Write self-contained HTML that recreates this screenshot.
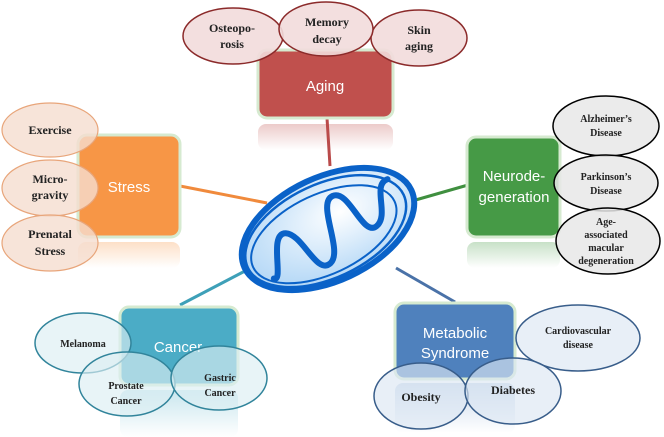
<!DOCTYPE html>
<html><head><meta charset="utf-8"><style>
html,body{margin:0;padding:0;background:#fff}
svg{display:block}
.b{font-family:"Liberation Serif",serif;font-weight:bold;font-size:12px;fill:#222;text-anchor:middle}
.s{font-size:10px}
.w{font-family:"Liberation Sans",sans-serif;font-size:15px;fill:#fff;text-anchor:middle}
</style></head><body>
<svg width="664" height="437" viewBox="0 0 664 437" xmlns="http://www.w3.org/2000/svg">
<defs>
<radialGradient id="lg" cx="0.6" cy="0.4" r="0.7"><stop offset="0" stop-color="#fff"/><stop offset="1" stop-color="#a9d2f5"/></radialGradient>
<linearGradient id="rr" x1="0" y1="0" x2="0" y2="1"><stop offset="0" stop-color="#c0504d" stop-opacity="0.3"/><stop offset="1" stop-color="#c0504d" stop-opacity="0"/></linearGradient>
<linearGradient id="ro" x1="0" y1="0" x2="0" y2="1"><stop offset="0" stop-color="#f79646" stop-opacity="0.3"/><stop offset="1" stop-color="#f79646" stop-opacity="0"/></linearGradient>
<linearGradient id="rg" x1="0" y1="0" x2="0" y2="1"><stop offset="0" stop-color="#469a46" stop-opacity="0.3"/><stop offset="1" stop-color="#469a46" stop-opacity="0"/></linearGradient>
<linearGradient id="rt" x1="0" y1="0" x2="0" y2="1"><stop offset="0" stop-color="#4bacc6" stop-opacity="0.3"/><stop offset="1" stop-color="#4bacc6" stop-opacity="0"/></linearGradient>
<linearGradient id="rb" x1="0" y1="0" x2="0" y2="1"><stop offset="0" stop-color="#4f81bd" stop-opacity="0.3"/><stop offset="1" stop-color="#4f81bd" stop-opacity="0"/></linearGradient>
</defs>
<line x1="327" y1="118" x2="330" y2="166" stroke="#b94a4a" stroke-width="3"/>
<line x1="180" y1="186" x2="267" y2="203" stroke="#f08a3c" stroke-width="3"/>
<line x1="412" y1="201" x2="468" y2="185" stroke="#3f8f3f" stroke-width="3"/>
<line x1="180" y1="305" x2="245" y2="271" stroke="#3ea0b8" stroke-width="3"/>
<line x1="396" y1="268" x2="455" y2="302" stroke="#4a72a8" stroke-width="3"/>
<rect x="258" y="124" width="135" height="26" rx="8" fill="url(#rr)"/>
<rect x="78" y="242" width="102" height="26" rx="8" fill="url(#ro)"/>
<rect x="467" y="242" width="93" height="26" rx="8" fill="url(#rg)"/>
<rect x="120" y="390" width="118" height="47" rx="8" fill="url(#rt)"/>
<rect x="395" y="383" width="120" height="50" rx="8" fill="url(#rb)"/>
<rect x="258" y="50" width="135" height="68" rx="9" fill="#c0504d" stroke="#d6ead0" stroke-width="3"/>
<text class="w" x="325" y="91">Aging</text>
<rect x="78" y="135" width="102" height="102" rx="9" fill="#f79646" stroke="#d6ead0" stroke-width="3"/>
<text class="w" x="129" y="192">Stress</text>
<rect x="467" y="137" width="93" height="100" rx="9" fill="#469a46" stroke="#d6ead0" stroke-width="3"/>
<text class="w" x="514" y="181">Neurode-</text><text class="w" x="514" y="202">generation</text>
<rect x="120" y="307" width="118" height="78" rx="9" fill="#4bacc6" stroke="#d6ead0" stroke-width="3"/>
<text class="w" x="178" y="352">Cancer</text>
<rect x="395" y="303" width="120" height="76" rx="9" fill="#4f81bd" stroke="#d6ead0" stroke-width="3"/>
<text class="w" x="455" y="338">Metabolic</text><text class="w" x="455" y="358">Syndrome</text>
<g fill="#f2dcdb" fill-opacity="0.9" stroke="#8b2a2a" stroke-width="1.5">
<ellipse cx="233" cy="36" rx="50" ry="28"/>
<ellipse cx="419" cy="38" rx="48" ry="28"/>
<ellipse cx="326" cy="29" rx="47" ry="27"/>
</g>
<text class="b" x="232" y="32">Osteopo-</text><text class="b" x="232" y="48">rosis</text>
<text class="b" x="327" y="26">Memory</text><text class="b" x="327" y="43">decay</text>
<text class="b" x="419" y="34">Skin</text><text class="b" x="419" y="50">aging</text>
<g fill="#f5ddd0" fill-opacity="0.8" stroke="#e8a57a" stroke-width="1.2">
<ellipse cx="50" cy="130" rx="48" ry="27"/>
<ellipse cx="50" cy="188" rx="48" ry="28"/>
<ellipse cx="50" cy="243" rx="48" ry="28"/>
</g>
<text class="b" x="50" y="134">Exercise</text>
<text class="b" x="50" y="183">Micro-</text><text class="b" x="50" y="199">gravity</text>
<text class="b" x="50" y="238">Prenatal</text><text class="b" x="50" y="255">Stress</text>
<g fill="#e8e8e8" fill-opacity="0.85" stroke="#000" stroke-width="1.5">
<ellipse cx="606" cy="126" rx="53" ry="30"/>
<ellipse cx="606" cy="183" rx="52" ry="28"/>
<ellipse cx="608" cy="241" rx="52" ry="33"/>
</g>
<text class="b s" x="606" y="122">Alzheimer’s</text><text class="b s" x="606" y="136">Disease</text>
<text class="b s" x="606" y="180">Parkinson’s</text><text class="b s" x="606" y="194">Disease</text>
<text class="b s" x="606" y="225">Age-</text><text class="b s" x="606" y="238">associated</text><text class="b s" x="606" y="251">macular</text><text class="b s" x="606" y="264">degeneration</text>
<g fill="#dbeef3" fill-opacity="0.65" stroke="#31849b" stroke-width="1.5">
<ellipse cx="83" cy="343" rx="48" ry="30"/>
<ellipse cx="127" cy="384" rx="48" ry="32"/>
<ellipse cx="219" cy="378" rx="48" ry="32"/>
</g>
<text class="b s" x="83" y="347">Melanoma</text>
<text class="b s" x="126" y="389">Prostate</text><text class="b s" x="126" y="404">Cancer</text>
<text class="b s" x="220" y="381">Gastric</text><text class="b s" x="220" y="396">Cancer</text>
<g fill="#dce6f2" fill-opacity="0.65" stroke="#385d8a" stroke-width="1.5">
<ellipse cx="578" cy="338" rx="62" ry="33"/>
<ellipse cx="421" cy="396" rx="47" ry="33"/>
<ellipse cx="513" cy="391" rx="48" ry="33"/>
</g>
<text class="b s" x="578" y="334">Cardiovascular</text><text class="b s" x="578" y="348">disease</text>
<text class="b" x="421" y="401">Obesity</text>
<text class="b" x="513" y="394">Diabetes</text>
<g transform="translate(328,229) rotate(-25)">
<ellipse cx="0" cy="0" rx="92" ry="52" fill="url(#lg)" stroke="#0a62c8" stroke-width="6"/>
<ellipse cx="-3" cy="1" rx="86" ry="47" fill="none" stroke="#0a62c8" stroke-width="2.5"/>
<ellipse cx="-6" cy="3" rx="78" ry="40" fill="none" stroke="#0a62c8" stroke-width="2"/>
<path d="M-70,22 C-62,30 -56,-22 -40,-14 C-25,-6 -30,38 -12,32 C5,26 0,-28 18,-28 C36,-28 28,22 45,18 C62,14 58,-22 75,-20" fill="none" stroke="#0a62c8" stroke-width="6" stroke-linecap="round"/>
</g>
</svg>
</body></html>
